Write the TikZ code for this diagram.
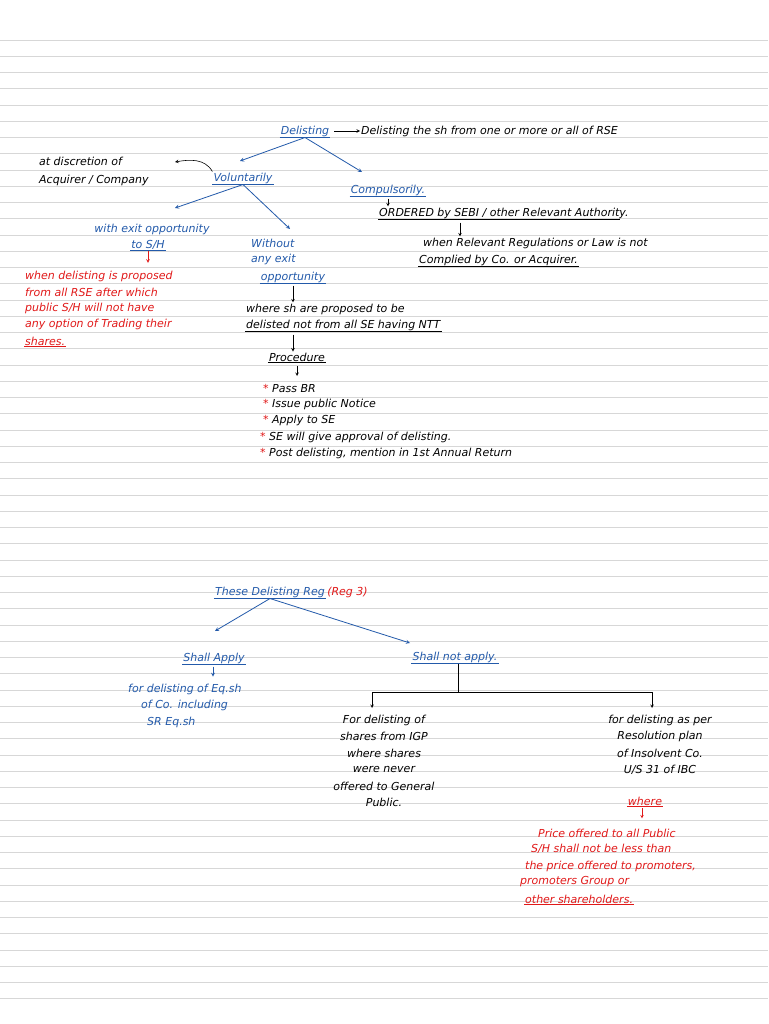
\documentclass[tikz,border=0pt]{standalone}
\usepackage{fontspec}
\setmainfont{DejaVu Sans}
\begin{document}
\begin{tikzpicture}[x=1pt,y=-1pt,
  bl/.style={text=inkblue,font=\itshape\fontsize{11}{12}\selectfont,inner sep=1pt},
  bk/.style={text=black,font=\itshape\fontsize{11}{12}\selectfont,inner sep=1pt},
  rd/.style={text=inkred,font=\itshape\fontsize{11}{12}\selectfont,inner sep=1pt},
  barb/.style={->,>=stealth},
  bline/.style={draw=inkblue,line width=0.8pt,barb},
  kline/.style={draw=black,line width=0.6pt},
  rline/.style={draw=inkred,line width=0.6pt}]
\definecolor{inkblue}{RGB}{35,90,170}
\definecolor{inkred}{RGB}{225,25,25}
\definecolor{rule}{RGB}{215,215,215}
\fill[white] (0,0) rectangle (768,1024);
\useasboundingbox (0,0) rectangle (768,1024);
\foreach \i in {0,...,59} \draw[rule,line width=0.8pt] (0,{40+16.25*\i}) -- (768,{40+16.25*\i});
% top
\node[bl] (del) at (305,131) {Delisting};
\draw[inkblue,line width=0.8pt] (del.south west) -- (del.south east);
\node[bk,anchor=west] (deldef) at (360,131) {Delisting the sh from one or more or all of RSE};
\draw[kline,barb] (del.east) ++(4,0) coordinate (a1) -- (deldef.west);
\node[bk,anchor=west] (disc1) at (38,161) {at discretion of};
\node[bk,anchor=west] (disc2) at (38,180) {Acquirer / Company};
\node[bl] (vol) at (243,178) {Voluntarily};
\draw[inkblue,line width=0.8pt] (vol.south west) -- (vol.south east);
\draw[kline,barb] (vol.north west) to[out=120,in=10] (175,162);
\node[bl] (comp) at (388,190) {Compulsorily.};
\draw[inkblue,line width=0.8pt] (comp.south west) -- (comp.south east);
\draw[bline] (del.south) -- (240,161);
\draw[bline] (del.south) -- (362,172);
\draw[bline] (vol.south) -- (175,208);
\draw[bline] (vol.south) -- (290,229);
\node[bl] (w1) at (152,229) {with exit opportunity};
\node[bl] (w2) at (148,245) {to S/H};
\draw[inkblue,line width=0.8pt] (w2.south west) -- (w2.south east);
\draw[rline,barb] (w2.south) -- ++(0,12) coordinate (w3);
\foreach \t [count=\k] in {when delisting is proposed,from all RSE after which,public S/H will not have,any option of Trading their,shares.}
  \node[rd,anchor=west] (r\k) at (24,{260+16.2*\k}) {\t};
\draw[inkred,line width=0.6pt] (r5.south west) -- (r5.south east);
\node[bl,anchor=west] (wo1) at (250,243) {Without};
\node[bl,anchor=west] (wo2) at (250,259) {any exit};
\node[bl] (wo3) at (293,277) {opportunity};
\draw[inkblue,line width=0.8pt] (wo3.south west) -- (wo3.south east);
\node[bk,anchor=west] (p1) at (245,309) {where sh are proposed to be};
\node[bk,anchor=west] (p2) at (245,325) {delisted not from all SE having NTT};
\draw[kline] (p2.south west) -- (p2.south east);
\draw[kline,barb] (wo3.south -| 293,0) ++(0,2) -- (p1.north -| 293,0);
\node[bk] (proc) at (297,357) {Procedure};
\draw[kline] (proc.south west) -- (proc.south east);
\draw[kline,barb] (p2.south -| 293,0) ++(0,3) -- (proc.north -| 293,0);
\coordinate (pa) at (297,366);
\draw[kline,barb] (pa) -- ++(0,10);
\foreach \t [count=\k] in {Pass BR,Issue public Notice,Apply to SE,SE will give approval of delisting.,{Post delisting, mention in 1st Annual Return}}
  \node[bk,anchor=west] (s\k) at ({262-(\k>3)*3},{372+16.3*\k}) {\textcolor{inkred}{*}\ \t};
\node[bk,anchor=west] (o1) at (378,213) {ORDERED by SEBI / other Relevant Authority.};
\draw[kline] (o1.south west) -- ([xshift=-10pt]o1.south east);
\draw[kline,barb] (comp.south -| 388,0) ++(0,2) -- (o1.north -| 388,0);
\node[bk,anchor=west] (c1) at (422,243) {when Relevant Regulations or Law is not};
\node[bk,anchor=west] (c2) at (418,260) {Complied by Co. or Acquirer.};
\draw[kline] (c2.south west) -- (c2.south east);
\draw[kline,barb] (o1.south -| 460,0) ++(0,3) -- (c1.north -| 460,0);
% bottom
\node[bl] (reg) at (270,592) {These Delisting Reg};
\node[rd,anchor=west] (reg3) at (reg.east) {(Reg 3)};
\draw[inkblue,line width=0.8pt] (reg.south west) -- (reg.south east);
\draw[bline] (reg.south) -- (215,631);
\draw[bline] (reg.south) -- (410,643);
\node[bl] (sa) at (214,658) {Shall Apply};
\draw[inkblue,line width=0.8pt] (sa.south west) -- (sa.south east);
\draw[draw=inkblue,line width=0.7pt,barb] (sa.south) ++(-1,2) -- ++(0,10);
\node[bl,anchor=west] (sa1) at (127,689) {for delisting of Eq.sh};
\node[bl,anchor=west] (sa2) at (140,705) {of Co. including};
\node[bl,anchor=west] (sa3) at (146,722) {SR Eq.sh};
\node[bl] (sna) at (455,657) {Shall not apply.};
\draw[inkblue,line width=0.8pt] (sna.south west) -- (sna.south east);
\coordinate (j) at (458,692);
\draw[kline] (sna.south -| j) -- (j);
\draw[kline,barb] (372,692) -- (372,708);
\draw[kline,barb] (652,692) -- (652,708);
\draw[kline] (372,692) -- (652,692);
\foreach \t [count=\k] in {For delisting of,shares from IGP,where shares,were never,offered to General,Public.}
  \node[bk] (m\k) at (384,{704+16.4*\k}) {\t};
\foreach \t [count=\k] in {for delisting as per,Resolution plan,of Insolvent Co.,U/S 31 of IBC}
  \node[bk] (n\k) at (660,{704+16.4*\k}) {\t};
\node[rd] (wh) at (645,801) {where};
\draw[inkred,line width=0.6pt] (wh.south west) -- (wh.south east);
\draw[rline,barb] (wh.south) ++(-3,2) -- ++(0,10);
\node[rd,anchor=west] (q1) at (537,833) {Price offered to all Public};
\node[rd,anchor=west] (q2) at (530,849) {S/H shall not be less than};
\node[rd,anchor=west] (q3) at (524,866) {the price offered to promoters,};
\node[rd,anchor=west] (q4) at (519,882) {promoters Group or};
\node[rd,anchor=west] (q5) at (524,899) {other shareholders.};
\draw[inkred,line width=0.6pt] (q5.south west) -- (q5.south east);
\end{tikzpicture}
\end{document}
